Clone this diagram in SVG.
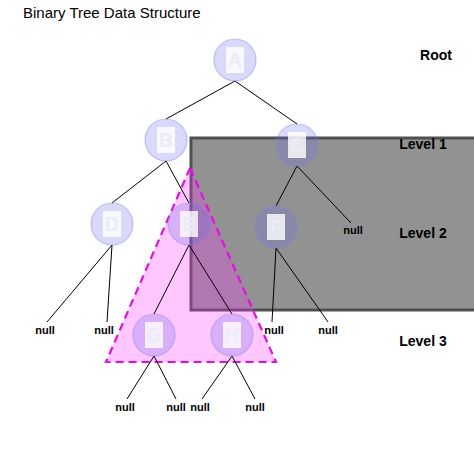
<svg xmlns="http://www.w3.org/2000/svg" width="474" height="474" viewBox="0 0 474 474">
<defs>
<style>
.edge{stroke:#000;stroke-width:1;fill:none}
.node circle{fill:rgba(110,110,235,0.26);stroke:rgba(130,130,230,0.45);stroke-width:1.2}
.node rect{fill:#fff;opacity:0.8}
.node text{font-family:"Liberation Sans",Arial,sans-serif;font-size:20px;font-weight:bold;fill:#ececf6;text-anchor:middle}
.nul{font-family:"Liberation Sans",Arial,sans-serif;font-size:11px;font-weight:bold;fill:#000;text-anchor:middle}
.lvl{font-family:"Liberation Sans",Arial,sans-serif;font-size:14px;font-weight:bold;fill:#000;text-anchor:middle}
</style>
</defs>
<rect width="474" height="474" fill="#fff"/>
<text x="23" y="18" font-family="Liberation Sans, Arial, sans-serif" font-size="15" fill="#000">Binary Tree Data Structure</text>
<g id="overlay-rect"><rect x="191" y="138" width="290" height="172" fill="#555" fill-opacity="0.64" stroke="#505050" stroke-width="3"/></g>
<g id="overlay-triangle"><polygon points="190,168 106,362 276,362" fill="#ff33ff" fill-opacity="0.28" stroke="#e010e0" stroke-width="2.2" stroke-dasharray="8,5"/></g>
<g id="connectors">
<line class="edge" x1="235" y1="81" x2="166" y2="119"/>
<line class="edge" x1="235" y1="81" x2="297" y2="124"/>
<line class="edge" x1="166" y1="161" x2="112" y2="203"/>
<line class="edge" x1="166" y1="161" x2="189" y2="203"/>
<line class="edge" x1="297" y1="166" x2="276" y2="206"/>
<line class="edge" x1="297" y1="166" x2="351" y2="223"/>
<line class="edge" x1="112" y1="245" x2="47" y2="322"/>
<line class="edge" x1="112" y1="245" x2="107" y2="322"/>
<line class="edge" x1="189" y1="245" x2="154" y2="314"/>
<line class="edge" x1="189" y1="245" x2="232" y2="314"/>
<line class="edge" x1="276" y1="248" x2="272" y2="322"/>
<line class="edge" x1="276" y1="248" x2="328" y2="322"/>
<line class="edge" x1="154" y1="356" x2="127" y2="399"/>
<line class="edge" x1="154" y1="356" x2="176" y2="399"/>
<line class="edge" x1="232" y1="356" x2="202" y2="399"/>
<line class="edge" x1="232" y1="356" x2="255" y2="399"/>
</g>
<g id="node-A" class="node"><circle cx="235" cy="60" r="21"/><rect x="226" y="47" width="18" height="26"/><text x="235" y="67">A</text></g>
<g id="node-B" class="node"><circle cx="166" cy="140" r="21"/><rect x="157" y="127" width="18" height="26"/><text x="166" y="147">B</text></g>
<g id="node-C" class="node"><circle cx="297" cy="145" r="21"/><rect x="288" y="132" width="18" height="26"/><text x="297" y="152">C</text></g>
<g id="node-D" class="node"><circle cx="112" cy="224" r="21"/><rect x="103" y="211" width="18" height="26"/><text x="112" y="231">D</text></g>
<g id="node-E" class="node"><circle cx="189" cy="224" r="21"/><rect x="180" y="211" width="18" height="26"/><text x="189" y="231">E</text></g>
<g id="node-F" class="node"><circle cx="276" cy="227" r="21"/><rect x="267" y="214" width="18" height="26"/><text x="276" y="234">F</text></g>
<g id="node-G" class="node"><circle cx="154" cy="335" r="21"/><rect x="145" y="322" width="18" height="26"/><text x="154" y="342">G</text></g>
<g id="node-H" class="node"><circle cx="232" cy="335" r="21"/><rect x="223" y="322" width="18" height="26"/><text x="232" y="342">H</text></g>
<g id="nulls">
<text class="nul" x="45" y="334">null</text>
<text class="nul" x="104" y="334">null</text>
<text class="nul" x="274" y="334">null</text>
<text class="nul" x="328" y="334">null</text>
<text class="nul" x="353" y="234">null</text>
<text class="nul" x="125" y="411">null</text>
<text class="nul" x="176" y="411">null</text>
<text class="nul" x="200" y="411">null</text>
<text class="nul" x="255" y="411">null</text>
</g>
<g id="levels">
<text class="lvl" x="436" y="60">Root</text>
<text class="lvl" x="423" y="149">Level 1</text>
<text class="lvl" x="423" y="238">Level 2</text>
<text class="lvl" x="423" y="346">Level 3</text>
</g>
</svg>
